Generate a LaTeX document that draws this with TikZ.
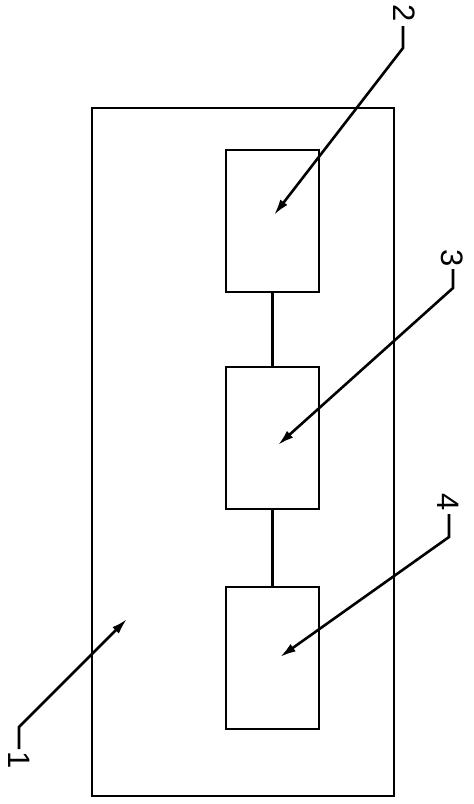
\documentclass[tikz,border=0pt]{standalone}
\usepackage{fontspec}
\setmainfont{Liberation Sans}
\usetikzlibrary{arrows.meta}
\begin{document}
\begin{tikzpicture}[x=1pt,y=-1pt,
  box/.style={draw,line width=2.8pt,rectangle,inner sep=0pt,minimum width=93pt,minimum height=142pt},
  lbl/.style={rotate=-90,inner sep=0pt,font=\fontsize{31}{31}\selectfont},
  lead/.style={line width=2.6pt,-{Latex[length=16pt,width=9pt]}},
  link/.style={line width=2.8pt}]
\useasboundingbox (0,0) rectangle (474,804);
\node[draw,line width=2.8pt,rectangle,inner sep=0pt,minimum width=302pt,minimum height=688pt] (outer) at (243,452) {};
\node[box] (b2) at (272.5,221) {};
\node[box] (b3) at (272.5,438) {};
\node[box] (b4) at (272.5,658) {};
\draw[link] (b2.south) -- (b3.north);
\draw[link] (b3.south) -- (b4.north);
\node[lbl] (l1) at (19,760) {1};
\node[lbl] (l2) at (404,13) {2};
\node[lbl] (l3) at (452,258) {3};
\node[lbl] (l4) at (448,502) {4};
\coordinate (s1) at (19,749);
\coordinate (k1) at (19,727);
\coordinate (t1) at (127,619);
\coordinate (s2) at (403,26);
\coordinate (k2) at (403,48);
\coordinate (t2) at (274,215);
\coordinate (s3) at (453,269);
\coordinate (k3) at (453,288);
\coordinate (t3) at (278,445);
\coordinate (s4) at (449,514);
\coordinate (k4) at (449,537);
\coordinate (t4) at (280,657);
\draw[lead] (s1) -- (k1) -- (t1);
\draw[lead] (s2) -- (k2) -- (t2);
\draw[lead] (s3) -- (k3) -- (t3);
\draw[lead] (s4) -- (k4) -- (t4);
\end{tikzpicture}
\end{document}
